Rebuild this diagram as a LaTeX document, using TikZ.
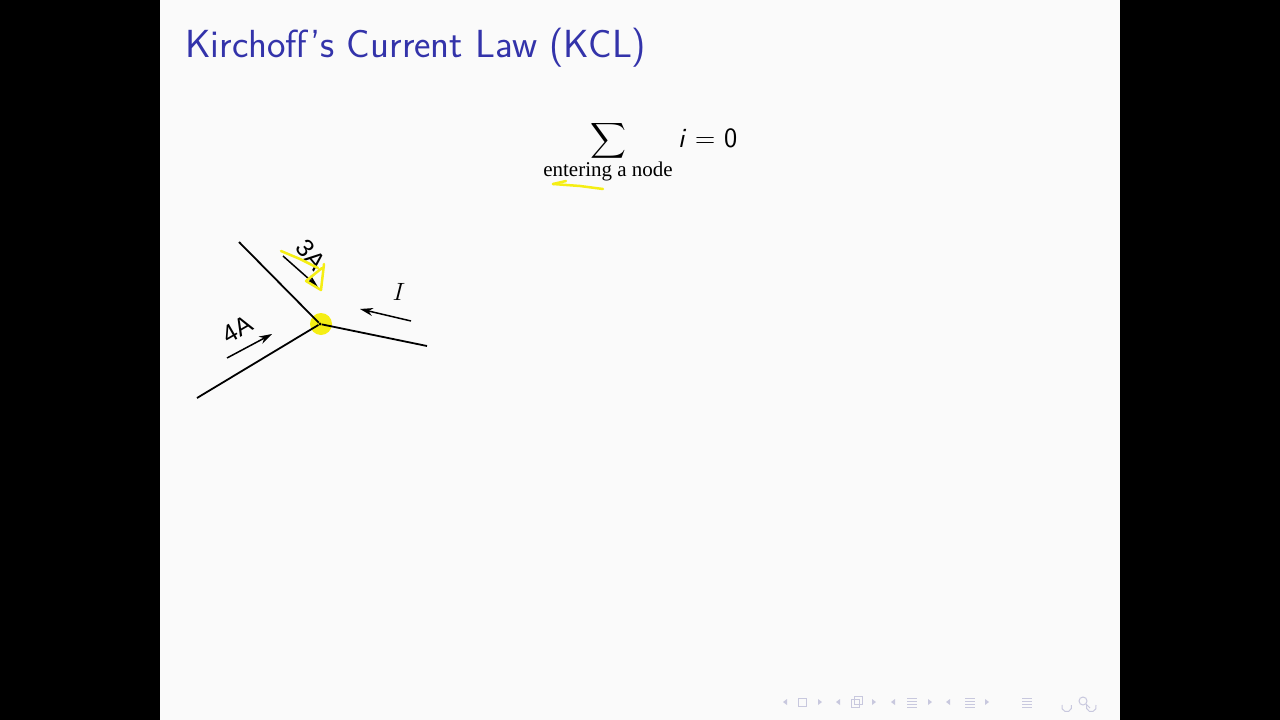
\RequirePackage{fix-cm}
\documentclass[tikz,border=0pt]{standalone}
\usepackage{exscale}
\usepackage{fontspec}
\newfontfamily\labelfont{Liberation Sans}
\newfontfamily\subfont{Liberation Serif}
\usepackage{tikz}
\usetikzlibrary{positioning, arrows.meta}
\definecolor{beamerblue}{RGB}{51,51,170}
\definecolor{slidegray}{RGB}{250,250,250}
\definecolor{navgray}{RGB}{200,200,222}
\definecolor{marker}{RGB}{245,238,20}

\begin{document}
\begin{tikzpicture}[x=1pt,y=-1pt]
	\def\xMIN{160};
	\def\xMAX{1120};
	\def\navY{702};

	\useasboundingbox (0,0) rectangle (1280,720);
	\fill[black] (0,0) rectangle (1280,720);
	\fill[slidegray] (\xMIN,0) rectangle (\xMAX,720);

	% title
	\node[anchor=base west, inner sep=0, text=beamerblue, font=\sffamily\fontsize{39.2}{42}\selectfont] (title) at (185,57) {Kirchoff's Current Law (KCL)};

	% formula
	\node[inner sep=0, font=\fontsize{29}{32}\selectfont] (sum) at (608,141) {$\displaystyle\sum$};
	\node[anchor=base, inner sep=0, font=\subfont\fontsize{21}{23}\selectfont] (under) at (608,176) {entering a node};
	\node[anchor=base west, inner sep=0, font=\sffamily\fontsize{28}{31}\selectfont] (eq) at (678,147) {\textit{i} $=$ 0};

	% junction
	\fill[marker] (321,324) circle (11);
	\node[circle, fill=black, inner sep=1.2pt] (jn) at (320,324) {};
	\coordinate (ul) at (239,242);
	\coordinate (ll) at (197,398);
	\coordinate (rr) at (427,346);

	\begin{scope}[line width=1.8pt]
		\draw (ul) -- (jn);
		\draw (ll) -- (jn);
		\draw (jn) -- (rr);
	\end{scope}

	% currents
	\coordinate (a4s) at (227,358);
	\coordinate (a4e) at (272,334);
	\coordinate (a3s) at (283,256);
	\coordinate (a3e) at (318,287);
	\coordinate (aIs) at (411,321);
	\coordinate (aIe) at (360,309);

	\begin{scope}[-{Stealth[length=13pt,width=8pt]}, line width=1.5pt]
		\draw (a4s) -- (a4e);
		\draw (a3s) -- (a3e);
		\draw (aIs) -- (aIe);
	\end{scope}

	\node[rotate=30, inner sep=0, font=\labelfont\fontsize{25}{27}\selectfont] (l4) at (237,329) {4A};
	\node[rotate=-50, inner sep=0, font=\labelfont\fontsize{25}{27}\selectfont] (l3) at (311,255) {3A};
	\node[inner sep=0, font=\fontsize{25}{27}\selectfont] (lI) at (399,292) {$I$};

	% highlights
	\begin{scope}[marker, line width=2.5pt, line cap=round, line join=round]
		\draw (281,251) -- (300,259) -- (318,268);
		\draw (324,264) -- (321,290) -- (306,281) -- (322,268);
		\draw (553,184) -- (580,186) -- (603,189);
		\draw (553,184) -- (566,181);
	\end{scope}

	% navigation symbols
	\begin{scope}[navgray, line width=1pt]
		\foreach \x in {785,838,893,948}
			\fill (\x+2,\navY-3) -- (\x-2,\navY) -- (\x+2,\navY+3) -- cycle;
		\foreach \x in {820,874,930,987}
			\fill (\x-2,\navY-3) -- (\x+2,\navY) -- (\x-2,\navY+3) -- cycle;
		\draw (798,698) rectangle (806,706);
		\draw (851,699) rectangle (859,707);
		\draw (854,696) rectangle (862,704);
		\foreach \x in {912,970,1027}
			\foreach \dy in {-4,-1,2,5}
				\draw (\x-5,\navY+\dy) -- (\x+5,\navY+\dy);
		\draw (1062,705) arc (200:-20:5);
		\draw (1083,701) circle (4);
		\draw (1086,704) -- (1090,708);
		\draw (1096,705) arc (-20:200:5);
	\end{scope}
\end{tikzpicture}
\end{document}
